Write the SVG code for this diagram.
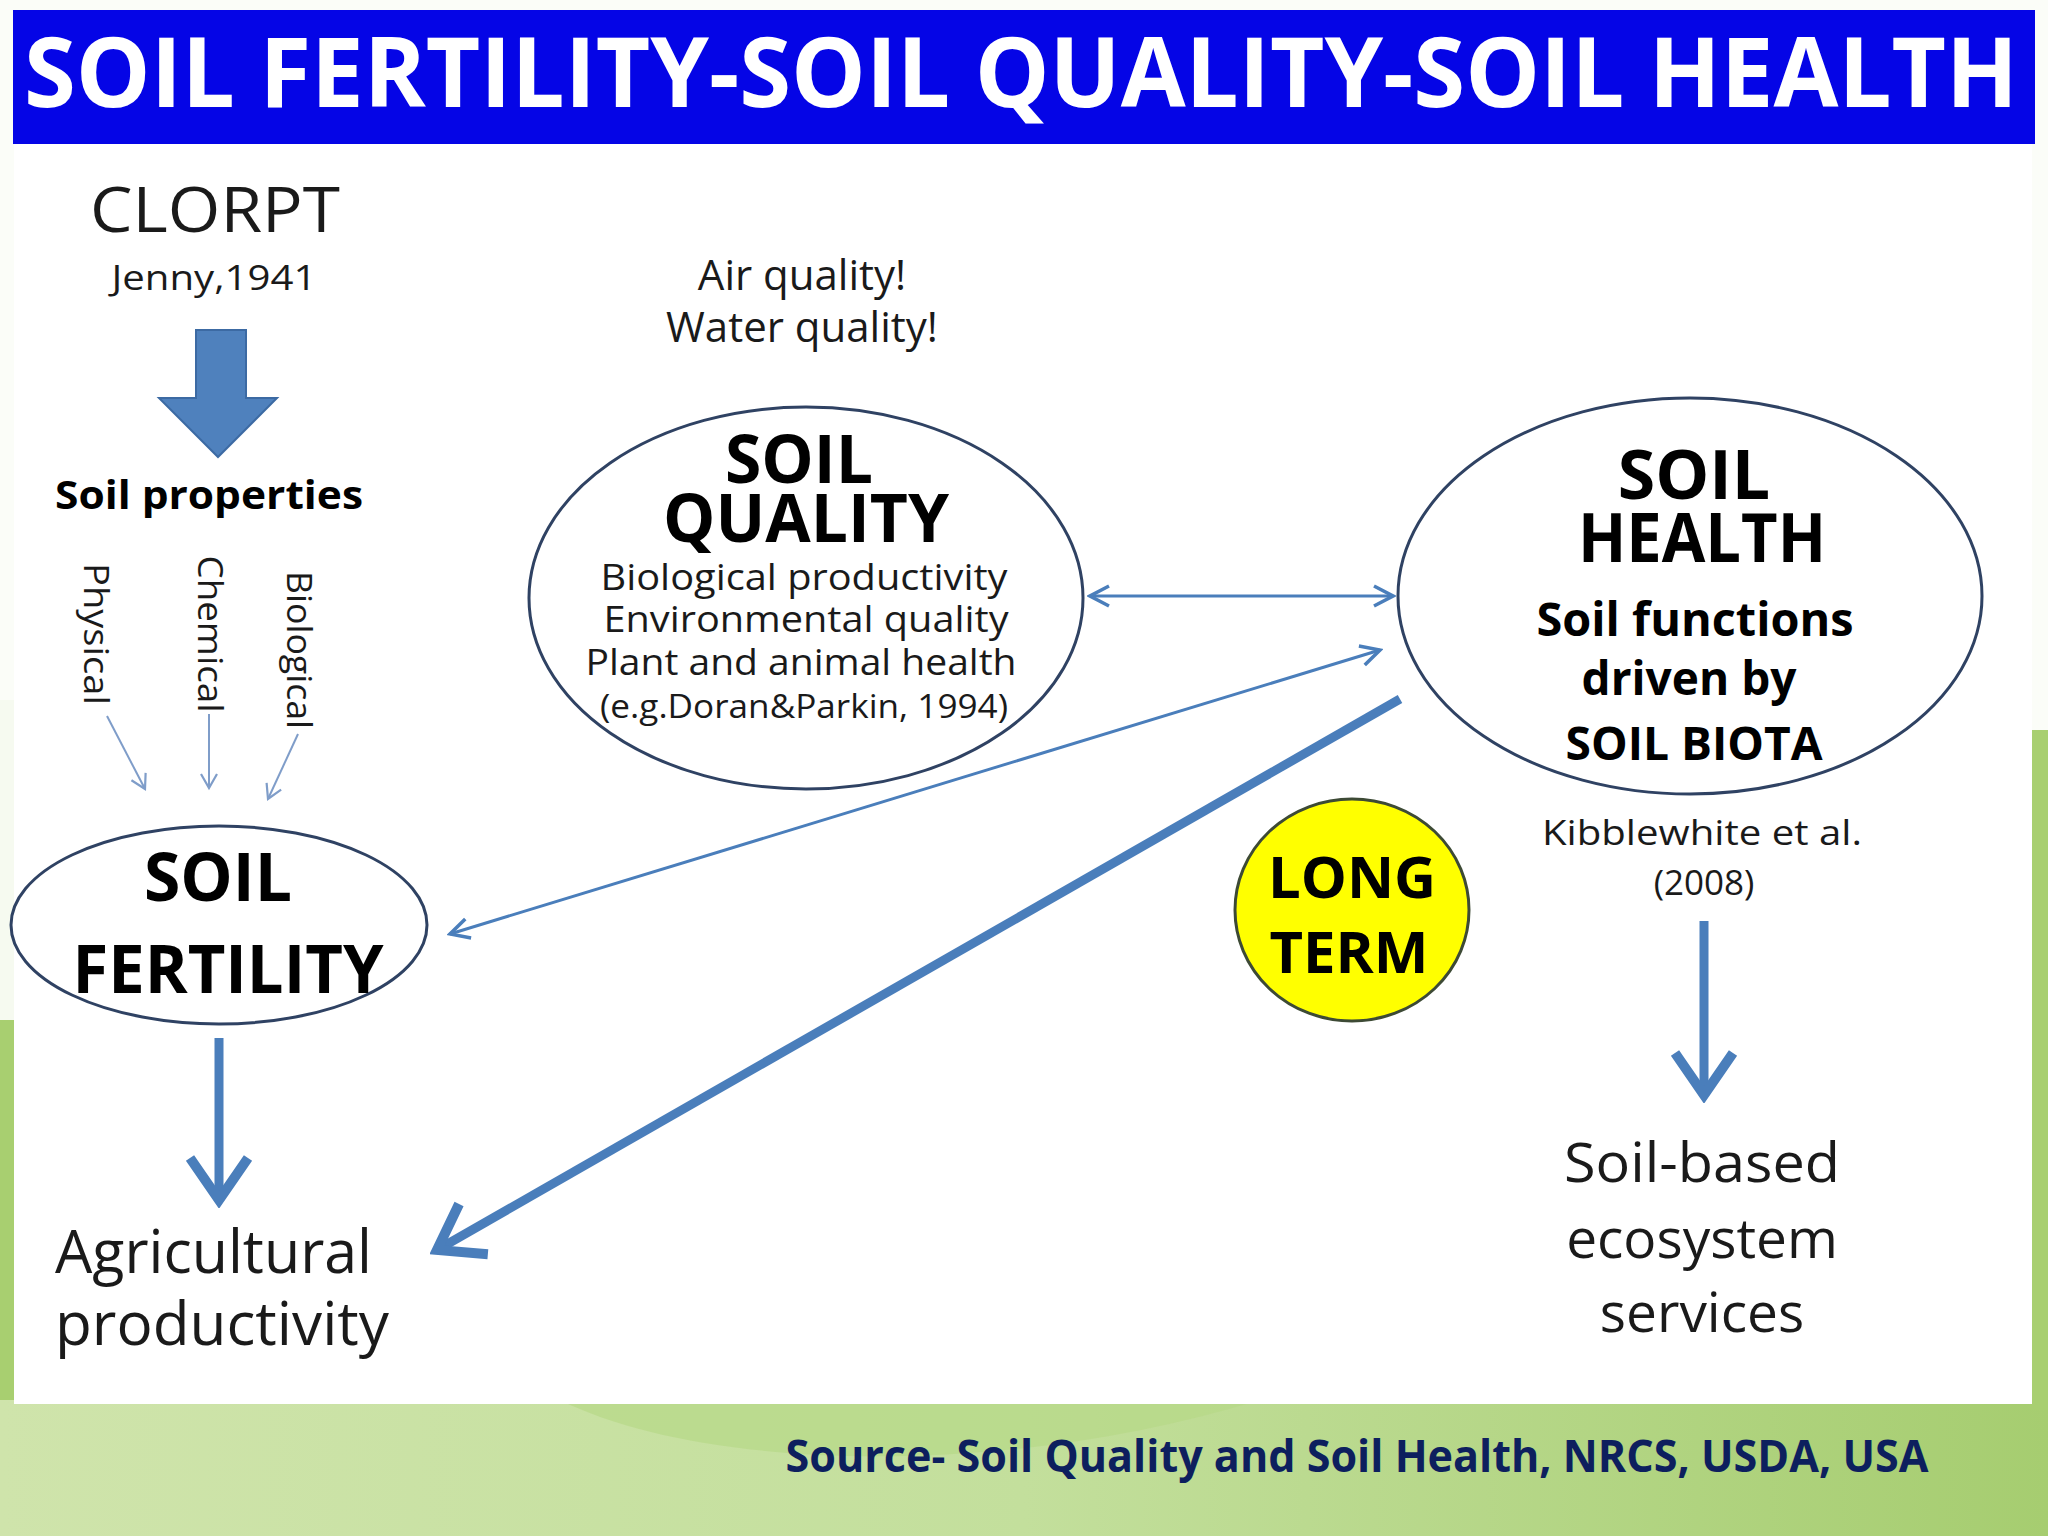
<svg xmlns="http://www.w3.org/2000/svg" width="2048" height="1536" viewBox="0 0 2048 1536">
<style>
  .t { font-family: "Open Sans", "Liberation Sans", sans-serif; fill: #1a1a1a; text-anchor: middle; }
  .s { font-family: "Open Sans", "Liberation Sans", sans-serif; fill: #1a1a1a; text-anchor: start; }
  .b { font-weight: 700; fill: #000; }
  .ell { fill: #ffffff; stroke: #2f4263; stroke-width: 3; }
  .thin { stroke: #4a7ebb; stroke-width: 3; fill: none; }
  .thick { stroke: #4a7ebb; stroke-width: 9; fill: none; }
  .light { stroke: #7f9dc9; stroke-width: 2; fill: none; }
</style>
<defs>
  <linearGradient id="bg" x1="0" y1="0" x2="1" y2="1">
    <stop offset="0" stop-color="#eaf4dc"/>
    <stop offset="0.6" stop-color="#cfe5ae"/>
    <stop offset="1" stop-color="#a9cf78"/>
  </linearGradient>
  <linearGradient id="band" x1="0" y1="0" x2="1" y2="0">
    <stop offset="0" stop-color="#cfe4ab"/>
    <stop offset="0.5" stop-color="#c3df9c"/>
    <stop offset="1" stop-color="#a6cd70"/>
  </linearGradient>
  <marker id="hThin" markerUnits="userSpaceOnUse" markerWidth="26" markerHeight="26" viewBox="0 0 26 26" refX="23" refY="13" orient="auto-start-reverse">
    <path d="M4,3 L23,13 L4,23" fill="none" stroke="#4a7ebb" stroke-width="3.5"/>
  </marker>
  <marker id="hLight" markerUnits="userSpaceOnUse" markerWidth="20" markerHeight="20" viewBox="0 0 20 20" refX="17" refY="10" orient="auto">
    <path d="M3,2 L17,10 L3,18" fill="none" stroke="#7f9dc9" stroke-width="2.2"/>
  </marker>
  <marker id="hThick" markerUnits="userSpaceOnUse" markerWidth="70" markerHeight="70" viewBox="0 0 70 70" refX="62" refY="35" orient="auto">
    <path d="M20,6 L62,35 L20,64" fill="none" stroke="#4a7ebb" stroke-width="10"/>
  </marker>
</defs>

<!-- background -->
<rect x="0" y="0" width="2048" height="1536" fill="url(#bg)"/>
<rect x="0" y="1390" width="2048" height="146" fill="url(#band)"/>
<path d="M560,1400 C700,1470 1000,1480 1260,1400 Z" fill="#b7d988" opacity="0.7"/>
<rect x="0" y="0" width="2048" height="730" fill="#fbfdf8"/>
<rect x="0" y="700" width="20" height="320" fill="#f6faf0"/>
<rect x="0" y="1020" width="16" height="380" fill="#a8cf70"/>
<rect x="2030" y="730" width="18" height="680" fill="#a8cf70"/>
<rect x="14" y="144" width="2018" height="1260" fill="#ffffff"/>

<!-- title -->
<g id="title">
  <rect x="13" y="10" width="2022" height="134" fill="#0505e6"/>
  <text x="1021" y="107" font-family="Open Sans, Liberation Sans, sans-serif" font-weight="700" font-size="96" fill="#ffffff" text-anchor="middle" textLength="1994" lengthAdjust="spacingAndGlyphs">SOIL FERTILITY-SOIL QUALITY-SOIL HEALTH</text>
</g>

<!-- CLORPT -->
<g id="clorpt">
  <text class="t" x="215" y="232" font-size="62" textLength="250" lengthAdjust="spacingAndGlyphs">CLORPT</text>
  <text class="t" x="214" y="290" font-size="34" fill="#333" textLength="205" lengthAdjust="spacingAndGlyphs">Jenny,1941</text>
</g>

<g id="block-arrow">
  <polygon points="196,330 246,330 246,398 277,398 218,457 159,398 196,398" fill="#4f81bd" stroke="#3c6aa3" stroke-width="2"/>
</g>

<g id="soil-properties">
  <text class="t b" x="209" y="509" font-size="40" textLength="308" lengthAdjust="spacingAndGlyphs">Soil properties</text>
  <text class="t" font-size="34" transform="translate(84,634) rotate(90)" textLength="142" lengthAdjust="spacingAndGlyphs">Physical</text>
  <text class="t" font-size="34" transform="translate(198,634) rotate(90)" textLength="157" lengthAdjust="spacingAndGlyphs">Chemical</text>
  <text class="t" font-size="34" transform="translate(287,650) rotate(90)" textLength="158" lengthAdjust="spacingAndGlyphs">Biological</text>
</g>

<!-- Soil fertility -->
<g id="soil-fertility">
  <ellipse class="ell" cx="219" cy="925" rx="208" ry="99"/>
  <text class="t b" x="218" y="901" font-size="66">SOIL</text>
  <text class="t b" x="228" y="993" font-size="66" textLength="311" lengthAdjust="spacingAndGlyphs">FERTILITY</text>
</g>

<g id="agri">
  <text class="s" x="55" y="1273" font-size="60" textLength="317" lengthAdjust="spacingAndGlyphs">Agricultural</text>
  <text class="s" x="55" y="1345" font-size="60" textLength="334" lengthAdjust="spacingAndGlyphs">productivity</text>
</g>

<!-- Soil quality -->
<g id="air-water">
  <text class="t" x="802" y="290" font-size="42" fill="#222">Air quality!</text>
  <text class="t" x="802" y="342" font-size="42" fill="#222">Water quality!</text>
</g>
<g id="soil-quality">
  <ellipse class="ell" cx="806" cy="598" rx="277" ry="191"/>
  <text class="t b" x="799" y="483" font-size="66">SOIL</text>
  <text class="t b" x="806" y="542" font-size="66" textLength="286" lengthAdjust="spacingAndGlyphs">QUALITY</text>
  <text class="t" x="804" y="590" font-size="37" fill="#222" textLength="407" lengthAdjust="spacingAndGlyphs">Biological productivity</text>
  <text class="t" x="806" y="632" font-size="37" fill="#222" textLength="405" lengthAdjust="spacingAndGlyphs">Environmental quality</text>
  <text class="t" x="801" y="675" font-size="37" fill="#222" textLength="431" lengthAdjust="spacingAndGlyphs">Plant and animal health</text>
  <text class="t" x="804" y="718" font-size="32" fill="#222" textLength="408" lengthAdjust="spacingAndGlyphs">(e.g.Doran&amp;Parkin, 1994)</text>
</g>

<!-- Soil health -->
<g id="soil-health">
  <ellipse class="ell" cx="1690" cy="596" rx="292" ry="198"/>
  <text class="t b" x="1694" y="499" font-size="68">SOIL</text>
  <text class="t b" x="1702" y="562" font-size="68" textLength="248" lengthAdjust="spacingAndGlyphs">HEALTH</text>
  <text class="t b" x="1695" y="636" font-size="46" textLength="317" lengthAdjust="spacingAndGlyphs">Soil functions</text>
  <text class="t b" x="1689" y="695" font-size="46">driven by</text>
  <text class="t b" x="1694" y="760" font-size="46" textLength="257" lengthAdjust="spacingAndGlyphs">SOIL BIOTA</text>
</g>
<g id="kibblewhite">
  <text class="t" x="1702" y="845" font-size="35" fill="#222" textLength="320" lengthAdjust="spacingAndGlyphs">Kibblewhite et al.</text>
  <text class="t" x="1704" y="895" font-size="35" fill="#222">(2008)</text>
</g>

<!-- Long term -->
<g id="long-term">
  <ellipse cx="1352" cy="910" rx="117" ry="111" fill="#ffff00" stroke="#3d4a35" stroke-width="3"/>
  <text class="t b" x="1352" y="898" font-size="58">LONG</text>
  <text class="t b" x="1349" y="973" font-size="58">TERM</text>
</g>

<g id="ecosystem">
  <text class="t" x="1702" y="1182" font-size="55" textLength="276" lengthAdjust="spacingAndGlyphs">Soil-based</text>
  <text class="t" x="1702" y="1258" font-size="55">ecosystem</text>
  <text class="t" x="1702" y="1332" font-size="55">services</text>
</g>

<!-- connectors -->
<g id="connectors">
  <line class="light" x1="107" y1="716" x2="145" y2="789" marker-end="url(#hLight)"/>
  <line class="light" x1="209" y1="714" x2="209" y2="788" marker-end="url(#hLight)"/>
  <line class="light" x1="298" y1="734" x2="268" y2="799" marker-end="url(#hLight)"/>
  <line class="thick" x1="219" y1="1038" x2="219" y2="1200" marker-end="url(#hThick)"/>
  <line class="thin" x1="1090" y1="596" x2="1393" y2="596" marker-start="url(#hThin)" marker-end="url(#hThin)"/>
  <line class="thin" x1="450" y1="934" x2="1380" y2="650" marker-start="url(#hThin)" marker-end="url(#hThin)"/>
  <line class="thick" x1="1400" y1="699" x2="437" y2="1250" marker-end="url(#hThick)"/>
  <line class="thick" x1="1704" y1="921" x2="1704" y2="1095" marker-end="url(#hThick)"/>
</g>

<text x="1357" y="1472" font-family="Open Sans, Liberation Sans, sans-serif" font-weight="700" font-size="44" fill="#0d1f5e" text-anchor="middle" textLength="1143" lengthAdjust="spacingAndGlyphs">Source- Soil Quality and Soil Health, NRCS, USDA, USA</text>
</svg>
